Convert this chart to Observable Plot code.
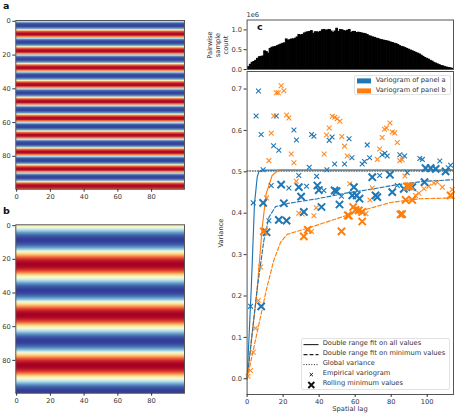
<!DOCTYPE html>
<html><head><meta charset="utf-8">
<script src="https://cdn.jsdelivr.net/npm/d3@7"></script>
<script src="https://cdn.jsdelivr.net/npm/@observablehq/plot@0.6"></script>
<style>
html,body{margin:0;padding:0;background:#fff;width:474px;height:418px;overflow:hidden}
#page{position:relative;width:474px;height:418px;font-family:"DejaVu Sans";color:#333;background:#fff}
.lbl{position:absolute;font:bold 9.5px "DejaVu Sans";color:#111;line-height:1}
.t{position:absolute;font:6.7px "DejaVu Sans";color:#333;line-height:1;white-space:nowrap}
.leg{position:absolute;background:rgba(255,255,255,.85);border:1px solid #e2e2e2;border-radius:2px;box-sizing:border-box}
.leg svg{position:absolute;left:0;top:0;overflow:visible}
</style></head><body><div id="page"></div>
<script>
const imageTicks = [0, 20, 40, 60, 80];
const stripesA = [
.33,.08,.02,.03,.15,.52,.84,.98,.98,.76,.33,.08,.02,.03,.15,.52,.84,.98,.98,.76,
.33,.08,.02,.03,.15,.52,.84,.98,.98,.76,.33,.08,.02,.03,.15,.52,.84,.98,.98,.76,
.33,.08,.02,.03,.15,.52,.84,.98,.98,.76,.33,.08,.02,.03,.15,.52,.84,.98,.98,.76,
.33,.08,.02,.03,.15,.52,.84,.98,.98,.76,.33,.08,.02,.03,.15,.52,.84,.98,.98,.76,
.33,.08,.02,.03,.15,.52,.84,.98,.98,.76,.33,.08,.02,.03,.15,.52,.84,.98,.98,.88];
const stripesB = [
.52,.47,.36,.27,.18,.11,.06,.03,.01,.01,.03,.06,.11,.18,.27,.43,.55,.65,.75,.84,.91,.96,.99,1,.99,.96,.91,.84,.75,.63,
.52,.47,.36,.27,.18,.11,.06,.03,.01,.01,.03,.06,.11,.18,.27,.43,.55,.65,.75,.84,.91,.96,.99,1,.99,.96,.91,.84,.75,.63,
.52,.47,.36,.27,.18,.11,.06,.03,.01,.01,.03,.06,.11,.18,.27,.43,.55,.65,.75,.84,.91,.96,.99,1,.99,.96,.91,.84,.75,.63,
.52,.47,.36,.27,.18,.11,.06,.03,.01,.01];
const pairCounts = [
.06,.12,.17,.19,.22,.27,.31,.32,.33,.46,.44,.40,.52,.55,.56,.57,.59,.61,.63,.65,.66,.76,.73,.74,.76,.76,.78,.81,.87,.86,
.87,.91,.93,.94,.95,.97,.90,.94,.94,.93,.95,.99,1.0,.98,.99,1.0,.96,.92,.96,1.03,.95,1.0,.99,.97,.96,.98,1.0,.92,.95,.95,
.92,.93,.92,.91,.90,.89,.87,.84,.83,.81,.80,.78,.77,.75,.74,.73,.72,.71,.70,.68,.67,.65,.64,.62,.59,.57,.56,.54,.52,.50,
.48,.46,.44,.42,.40,.38,.35,.32,.29,.27,.25,.22,.20,.17,.15,.13,.11,.09,.08,.06,.05,.04,.03,.02];
const blueEmpirical = [[1.9,.175],[3.4,.425],[5,.635],[6.3,.695],[7.8,.59],[8.9,.505],[12.1,.382],[13.4,.467],[14.7,.563],[16.2,.635],[17.6,.552],[23.2,.461],[26,.601],[27.4,.577],[28.7,.491],[33,.465],[34.5,.511],[35.8,.59],[37.1,.586],[38.6,.489],[42.6,.455],[44.3,.505],[45.6,.576],[47.2,.584],[48.6,.519],[52.4,.441],[54.1,.519],[56.6,.58],[58.2,.534],[63.9,.519],[65.2,.525],[66.7,.565],[68,.534],[73.6,.491],[75,.541],[76.5,.545],[77.8,.538],[83.4,.467],[84.8,.541],[87.4,.538],[88.9,.498],[95.9,.532],[97.3,.53],[104.7,.507],[107,.526],[111.7,.51],[113,.516]];
const orangeEmpirical = [[.5,.006],[1.9,.02],[3.4,.064],[4.7,.122],[6.2,.189],[7.5,.27],[9.3,.356],[10.8,.437],[12.1,.527],[13.4,.593],[14.8,.635],[16.2,.691],[17.3,.691],[18.9,.708],[20.4,.696],[21.9,.637],[23.2,.63],[24.5,.543],[26,.522],[27.3,.477],[28.7,.4],[30.6,.398],[33.4,.362],[35.8,.356],[37.1,.394],[38.4,.413],[42.8,.543],[44.1,.589],[45.6,.606],[47.3,.634],[48.7,.632],[50,.628],[51.5,.622],[52.6,.585],[54.1,.562],[55.6,.538],[57,.471],[66,.399],[68.2,.432],[69.5,.461],[72.3,.53],[73.6,.555],[75,.583],[76.3,.603],[77.4,.606],[79.3,.618],[80.6,.596],[82,.594],[83.4,.571],[84.8,.527],[86.1,.529],[87.6,.49],[93.5,.443],[95.4,.448],[98.2,.459],[100.9,.465],[103.7,.473],[105.6,.475],[108.4,.463],[113,.443],[113.9,.457]];
const blueRolling = [[7.8,.175],[8.9,.425],[10.8,.354],[17.6,.384],[18.9,.469],[20.4,.424],[21.9,.382],[28.7,.463],[30,.44],[31.5,.403],[39,.467],[39.8,.456],[41.3,.415],[48.6,.455],[49.7,.453],[51.3,.421],[58.4,.443],[59.3,.463],[60.8,.443],[62.4,.435],[69.5,.487],[71.3,.443],[72.3,.439],[79.3,.493],[80.6,.451],[87,.459],[91.7,.463],[98.5,.475],[99.1,.509],[101.9,.509],[104.7,.507],[110.2,.501]];
const orangeRolling = [[9.3,.356],[31.5,.344],[33.7,.36],[52.4,.356],[55.9,.395],[56.5,.394],[58.9,.415],[60.2,.408],[62,.407],[63.9,.403],[63.9,.38],[85.2,.397],[86.1,.398],[88,.432],[88.8,.465],[89.8,.465],[90.8,.465],[91.7,.432],[113,.443]];
const blueFitAll = [[0,0],[2.3,.217],[4.1,.423],[5.6,.487],[6.5,.5],[8,.504],[114.6,.504]];
const orangeFitAll = [[0,0],[5.6,.217],[8.4,.366],[10.6,.447],[13.9,.491],[17.6,.505],[114.6,.505]];
const blueFitMin = [[0,0],[5.6,.217],[9.3,.334],[12.1,.39],[15.8,.416],[23.2,.424],[39,.435],[55.6,.449],[70.4,.459],[83.4,.469],[98.2,.477],[114.6,.481]];
const orangeFitMin = [[0,0],[10.8,.217],[14.8,.286],[18.6,.33],[22.3,.349],[35.2,.366],[55.6,.395],[66.7,.41],[79.7,.426],[96.3,.435],[114.6,.437]];
const globalVariance = [[0,.502],[114.6,.502]];
const varianceTicks = [0,.1,.2,.3,.4,.5,.6,.7];
const lagTicks = [0,20,40,60,80,100];
const countTicks = [0,.5,1];
const legendTop = ["Variogram of panel a","Variogram of panel b"];
const legendBottom = ["Double range fit on all values","Double range fit on minimum values","Global variance","Empirical variogram","Rolling minimum values"];
const BLUE="#1f77b4", ORANGE="#ff7f0e", INK="#333", SPINE="#555", FS=6.7;

const page=document.getElementById("page");
function place(svg,left,top){svg.style.position="absolute";svg.style.left=left+"px";svg.style.top=top+"px";page.appendChild(svg);}
const base={style:{background:"transparent",fontFamily:"DejaVu Sans",fontSize:FS+"px",color:INK,maxWidth:"none",overflow:"visible"}};
const axOpt={fontSize:FS,tickSize:3,tickPadding:2};

function image(rows,top,frameTop,frameBottom,h){
  const plot=Plot.plot({...base,width:200,height:h,marginLeft:15.3,marginRight:16,marginTop:frameTop-top,marginBottom:top+h-frameBottom,
    x:{domain:[-.5,99.5]},y:{domain:[99.5,-.5]},
    color:{type:"linear",scheme:"RdYlBu",reverse:true,domain:[0,1]},
    marks:[
      Plot.raster(rows,{width:1,height:100,x1:-.5,x2:99.5,y1:-.5,y2:99.5,fill:d=>d,imageRendering:"auto"}),
      Plot.frame({stroke:SPINE}),
      Plot.axisX({...axOpt,anchor:"bottom",ticks:imageTicks,tickFormat:d=>d,label:null}),
      Plot.axisY({...axOpt,anchor:"left",ticks:imageTicks,tickFormat:d=>d,label:null})
    ]});
  place(plot,0,top);
}
image(stripesA,0,20,188.7,208);
image(stripesB,208,224.3,392.7,210);

const hist=Plot.plot({...base,width:274,height:70,marginLeft:46.6,marginRight:21,marginTop:19.5,marginBottom:1,
  x:{domain:[0,114.6],axis:null},y:{domain:[0,1.25]},
  marks:[
    Plot.rectY(pairCounts,{x1:(d,i)=>i+.5,x2:(d,i)=>i+1.5,y:d=>d,fill:"black",stroke:"black",strokeWidth:.9,strokeLinejoin:"miter"}),
    Plot.frame({stroke:SPINE}),
    Plot.axisY({...axOpt,anchor:"left",ticks:countTicks,tickFormat:d3.format(".1f"),label:null})
  ]});
place(hist,200,0);

const line=(d,stroke,o={})=>Plot.line(d,{x:p=>p[0],y:p=>p[1],stroke,strokeWidth:1.15,...o});
const dots=(d,stroke,r,sw,op)=>Plot.dot(d,{x:p=>p[0],y:p=>p[1],symbol:"times",r,stroke,strokeWidth:sw,strokeOpacity:op});
const main=Plot.plot({...base,width:274,height:348,marginLeft:46.6,marginRight:21,marginTop:1,marginBottom:24,
  x:{domain:[0,114.6]},y:{domain:[-.0379,.7423]},
  marks:[
    line(globalVariance,"#222",{strokeDasharray:"1,1.6",strokeWidth:1}),
    line(blueFitAll,BLUE),line(orangeFitAll,ORANGE),
    line(blueFitMin,BLUE,{strokeDasharray:"4,2"}),line(orangeFitMin,ORANGE,{strokeDasharray:"4,2"}),
    dots(blueEmpirical,BLUE,2.3,1.1,1),dots(orangeEmpirical,ORANGE,2.3,1.1,.9),
    dots(blueRolling,BLUE,3.4,2,1),dots(orangeRolling,ORANGE,3.4,2,1),
    Plot.frame({stroke:SPINE}),
    Plot.axisX({...axOpt,anchor:"bottom",ticks:lagTicks,tickFormat:d=>d,label:null}),
    Plot.axisY({...axOpt,anchor:"left",ticks:varianceTicks,tickFormat:d3.format(".1f"),label:null})
  ]});
place(main,200,70);

function text(s,x,y,cls="t",extra=""){const e=document.createElement("div");e.className=cls;e.textContent=s;e.style.cssText=`left:${x}px;top:${y}px;${extra}`;page.appendChild(e);return e;}
text("a",3,1,"lbl");text("b",3,206,"lbl");text("c",257,22,"lbl");
text("1e6",246.5,11.5);
text("Spatial lag",350,406,"t","transform:translateX(-50%)");
text("Variance",221,233,"t","transform:translate(-50%,-50%) rotate(-90deg)");
["Pairwise","sample","count"].forEach((s,i)=>text(s,210+i*8.1,45,"t","transform:translate(-50%,-50%) rotate(-90deg)"));

function legend(x,y,w,h,draw){const d=document.createElement("div");d.className="leg";d.style.cssText=`left:${x}px;top:${y}px;width:${w}px;height:${h}px`;
  const NS="http://www.w3.org/2000/svg",s=document.createElementNS(NS,"svg");s.setAttribute("width",w);s.setAttribute("height",h);d.appendChild(s);page.appendChild(d);draw(s,NS);}
function shape(s,NS,tag,attrs){const e=document.createElementNS(NS,tag);for(const k in attrs)e.setAttribute(k,attrs[k]);s.appendChild(e);}
legend(354,74.7,97,20.6,(s,NS)=>{
  [BLUE,ORANGE].forEach((c,i)=>shape(s,NS,"rect",{x:2,y:2.4+i*10,width:14,height:5,fill:c}));
});
legendTop.forEach((t,i)=>text(t,375.7,76.7+i*10));
legend(300.7,337.7,149.3,52.3,(s,NS)=>{
  shape(s,NS,"line",{x1:1.5,x2:16.5,y1:5.6,y2:5.6,stroke:"#222","stroke-width":1.1});
  shape(s,NS,"line",{x1:1.5,x2:16.5,y1:15.6,y2:15.6,stroke:"#222","stroke-width":1.1,"stroke-dasharray":"4,2"});
  shape(s,NS,"line",{x1:1.5,x2:16.5,y1:25.6,y2:25.6,stroke:"#222","stroke-width":1,"stroke-dasharray":"1,1.6"});
  [[35.6,1.6,1],[46,3,1.9]].forEach(([cy,r,sw])=>{
    shape(s,NS,"path",{d:`M${9.3-r},${cy-r}L${9.3+r},${cy+r}M${9.3-r},${cy+r}L${9.3+r},${cy-r}`,stroke:"#111","stroke-width":sw,fill:"none"});
  });
});
legendBottom.forEach((t,i)=>text(t,322.7,340+i*10.05));
</script></body></html>
